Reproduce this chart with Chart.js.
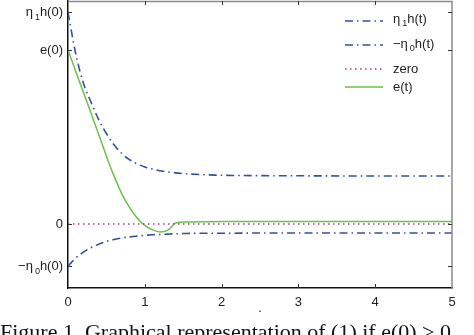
<!DOCTYPE html>
<html>
<head>
<meta charset="utf-8">
<script src="https://cdn.jsdelivr.net/npm/chart.js@4/dist/chart.umd.min.js"></script>
<style>
  html, body { margin: 0; padding: 0; background: #fff; overflow: hidden; }
  #wrap { position: relative; width: 474px; height: 335px; overflow: hidden; }
  #caption {
    position: absolute; left: 0; top: 320px;
    font-family: "Liberation Serif", "Times New Roman", serif;
    font-size: 22px; line-height: 24px; white-space: nowrap; color: #111;
  }
</style>
</head>
<body>
<div id="wrap">
  <canvas id="plot"></canvas>
  <div id="caption">Figure 1. Graphical representation of (1) if e(0) &gt; 0</div>
</div>
<script>
// time samples (s)
const times = [0, 0.1, 0.2, 0.3, 0.4, 0.5, 0.6, 0.7, 0.8, 0.9, 1.0, 1.1, 1.2, 1.3, 1.35, 1.4, 1.5, 1.6, 1.8, 2.0, 2.5, 3, 4, 5];

// upper bound eta_1 h(t)
const eta1h = [1.218, 0.98, 0.81, 0.70, 0.60, 0.52, 0.455, 0.405, 0.37, 0.345, 0.328, 0.316, 0.306, 0.299, 0.296, 0.294, 0.290, 0.287, 0.283, 0.280, 0.278, 0.277, 0.276, 0.276];

// lower bound -eta_0 h(t)
const minusEta0h = [-0.242, -0.196, -0.162, -0.136, -0.116, -0.100, -0.089, -0.080, -0.074, -0.069, -0.065, -0.062, -0.060, -0.058, -0.057, -0.056, -0.055, -0.054, -0.053, -0.053, -0.052, -0.052, -0.052, -0.052];

// error e(t)
const err = [1.0, 0.878, 0.757, 0.637, 0.515, 0.39, 0.275, 0.175, 0.095, 0.035, -0.008, -0.034, -0.046, -0.035, -0.015, 0.006, 0.011, 0.012, 0.013, 0.014, 0.014, 0.015, 0.015, 0.015];

// zero reference
const zeroTimes = [0, 5];
const zeroValues = [0, 0];

// y ticks: eta_1 h(0), e(0), 0, -eta_0 h(0)
const yTickValues = [1.218, 1.0, 0, -0.242];
const yTickLabels = [
    [{t: 'η'}, {t: '1', sub: true, gap: 2}, {t: 'h(0)'}],
    [{t: 'e(0)'}],
    [{t: '0'}],
    [{t: '−η'}, {t: '0', sub: true, gap: 2}, {t: 'h(0)'}]
];

const legendLabels = [
    [{t: 'η'}, {t: '1', sub: true, gap: 2}, {t: 'h(t)'}],
    [{t: '−η'}, {t: '0', sub: true, gap: 2}, {t: 'h(t)'}],
    [{t: 'zero'}],
    [{t: 'e(t)'}]
];

const FONT = '"Liberation Sans", Arial, sans-serif';
const BLUE = '#34509e';
const GREEN = '#6cc04c';
const MAGENTA = '#b03a8c';
const DASHDOT = [8, 4, 1.5, 4];
const DOTS = [1.5, 3.5];

function pts(xs, ys) {
    return xs.map((x, i) => ({x: x, y: ys[i]}));
}

// text with subscripts, vertically centred on y
function drawRich(ctx, parts, x, y, align) {
    let total = 0;
    parts.forEach(p => {
        ctx.font = (p.sub ? '9px ' : '13px ') + FONT;
        total += ctx.measureText(p.t).width + (p.gap || 0);
    });
    let cx = align === 'right' ? x - total : x;
    ctx.textAlign = 'left';
    ctx.textBaseline = 'middle';
    parts.forEach(p => {
        ctx.font = (p.sub ? '9px ' : '13px ') + FONT;
        cx += (p.gap || 0);
        ctx.fillText(p.t, cx, p.sub ? y + 5 : y);
        cx += ctx.measureText(p.t).width;
    });
}

const decor = {
    id: 'decor',
    afterDraw(chart) {
        const ctx = chart.ctx;
        const a = chart.chartArea;
        const xs = chart.scales.x;
        const ys = chart.scales.y;
        ctx.save();

        // top and right box edges
        ctx.strokeStyle = '#8a8a8a';
        ctx.lineWidth = 1.5;
        ctx.beginPath();
        ctx.moveTo(a.left, a.top + 0.5);
        ctx.lineTo(a.right, a.top + 0.5);
        ctx.lineTo(a.right, a.bottom);
        ctx.stroke();

        // inward tick marks
        ctx.strokeStyle = '#333';
        ctx.lineWidth = 1;
        ctx.beginPath();
        [1, 2, 3, 4].forEach(v => {
            const px = Math.round(xs.getPixelForValue(v)) + 0.5;
            ctx.moveTo(px, a.bottom);
            ctx.lineTo(px, a.bottom - 4);
            ctx.moveTo(px, a.top);
            ctx.lineTo(px, a.top + 4);
        });
        yTickValues.forEach(v => {
            const py = Math.round(ys.getPixelForValue(v)) + 0.5;
            ctx.moveTo(a.left, py);
            ctx.lineTo(a.left + 4, py);
            ctx.moveTo(a.right, py);
            ctx.lineTo(a.right - 4, py);
        });
        ctx.stroke();

        // y tick labels
        ctx.fillStyle = '#222';
        yTickValues.forEach((v, i) => {
            drawRich(ctx, yTickLabels[i], a.left - 5, ys.getPixelForValue(v), 'right');
        });

        // legend
        const ds = chart.data.datasets;
        const lineY = [21, 45, 69, 87];
        const textY = [19, 44, 69, 87];
        ds.forEach((d, i) => {
            ctx.strokeStyle = d.borderColor;
            ctx.lineWidth = d.borderWidth;
            ctx.setLineDash(d.borderDash || []);
            ctx.beginPath();
            ctx.moveTo(345, lineY[i]);
            ctx.lineTo(383, lineY[i]);
            ctx.stroke();
            ctx.setLineDash([]);
            ctx.fillStyle = '#222';
            drawRich(ctx, legendLabels[i], 393, textY[i], 'left');
        });

        // x label
        ctx.font = '13px ' + FONT;
        ctx.textAlign = 'center';
        ctx.textBaseline = 'middle';
        ctx.fillText('.', (a.left + a.right) / 2, 308);
        ctx.restore();
    }
};

new Chart(document.getElementById('plot'), {
    type: 'line',
    data: {
        datasets: [
            {
                label: 'η1h(t)',
                data: pts(times, eta1h),
                borderColor: BLUE,
                borderWidth: 1.6,
                borderDash: DASHDOT,
                cubicInterpolationMode: 'monotone'
            },
            {
                label: '−η0h(t)',
                data: pts(times, minusEta0h),
                borderColor: BLUE,
                borderWidth: 1.6,
                borderDash: DASHDOT,
                cubicInterpolationMode: 'monotone'
            },
            {
                label: 'zero',
                data: pts(zeroTimes, zeroValues),
                borderColor: MAGENTA,
                borderWidth: 1.5,
                borderDash: DOTS
            },
            {
                label: 'e(t)',
                data: pts(times, err),
                borderColor: GREEN,
                borderWidth: 1.5,
                cubicInterpolationMode: 'monotone'
            }
        ]
    },
    options: {
        responsive: true,
        maintainAspectRatio: false,
        animation: false,
        events: [],
        layout: { padding: { top: 1, right: 22, left: 0, bottom: 0 } },
        elements: { point: { radius: 0 } },
        plugins: {
            legend: { display: false },
            tooltip: { enabled: false }
        },
        scales: {
            x: {
                type: 'linear',
                min: 0,
                max: 5,
                afterFit: s => { s.height = 47; },
                grid: { display: false },
                border: { display: true, color: '#111', width: 1.5 },
                ticks: {
                    stepSize: 1,
                    padding: -1,
                    color: '#222',
                    font: { family: FONT, size: 13 }
                }
            },
            y: {
                type: 'linear',
                min: -0.3678,
                max: 1.2816,
                afterFit: s => { s.width = 68; },
                afterBuildTicks: s => {
                    s.ticks = yTickValues.map(v => ({value: v}));
                },
                grid: { display: false },
                border: { display: true, color: '#111', width: 1.5 },
                ticks: { display: false }
            }
        }
    },
    plugins: [decor]
});
</script>
</body>
</html>
